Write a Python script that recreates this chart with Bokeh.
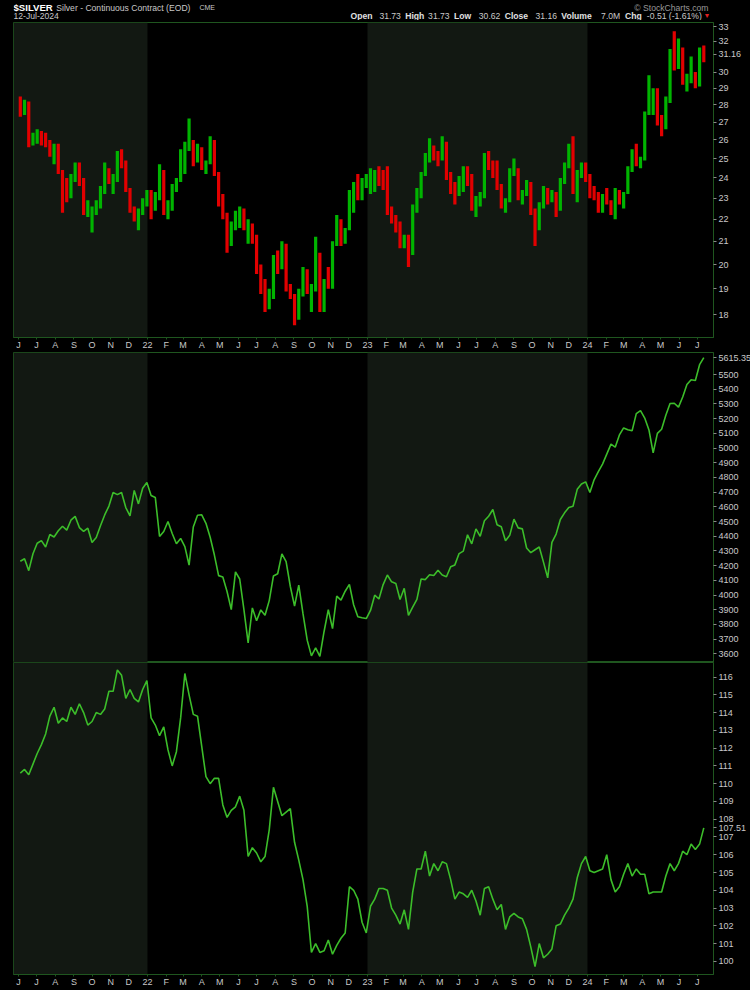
import pandas as pd
from bokeh.plotting import figure
from bokeh.models import Range1d, FixedTicker, BoxAnnotation, PrintfTickFormatter, ColumnDataSource
from bokeh.core.properties import value
from bokeh.layouts import column
from bokeh.embed import file_html
from bokeh.resources import INLINE

# ---------------- data (weekly, Fridays) ----------------
WEEK_START = "2021-06-04"
WEEK_END = "2024-07-12"

MONTH_LABELS = ["J", "J", "A", "S", "O", "N", "D",
                "22", "F", "M", "A", "M", "J", "J", "A", "S", "O", "N", "D",
                "23", "F", "M", "A", "M", "J", "J", "A", "S", "O", "N", "D",
                "24", "F", "M", "A", "M", "J", "J"]

SILVER_FIRST_OPEN = 28.2
SILVER_CLOSE = [
    27.9, 28.0, 25.9, 26.3, 26.5, 26.2, 25.9, 25.2, 25.5, 24.3,
    23.8, 23.1, 24.0, 24.7, 23.8, 22.4, 22.4, 22.5, 22.7, 23.3,
    24.4, 23.9, 24.1, 25.3, 24.7, 23.4, 22.5, 22.2, 22.4, 22.9,
    23.3, 22.4, 23.0, 24.3, 22.4, 22.4, 23.5, 23.9, 24.3, 25.7,
    25.9, 25.0, 25.6, 24.7, 24.8, 25.9, 24.2, 22.8, 22.3, 20.8,
    21.7, 22.1, 22.2, 21.7, 21.7, 21.1, 19.9, 19.2, 18.6, 18.6,
    20.3, 19.9, 20.8, 19.0, 18.8, 17.9, 18.8, 19.5, 18.9, 19.0,
    20.5, 18.3, 19.3, 19.2, 20.9, 21.8, 21.0, 21.5, 23.2, 23.5,
    23.2, 23.9, 24.0, 24.0, 24.3, 24.0, 23.7, 22.4, 22.0, 21.7,
    20.8, 21.2, 20.6, 22.5, 23.2, 24.1, 25.1, 25.4, 25.2, 25.0,
    25.7, 24.0, 23.8, 23.2, 23.7, 24.4, 24.2, 22.5, 22.8, 23.1,
    25.1, 24.7, 24.3, 23.6, 22.7, 22.8, 24.3, 24.4, 23.1, 23.1,
    23.7, 22.4, 21.7, 22.6, 23.4, 23.1, 23.3, 22.4, 23.8, 24.6,
    25.6, 23.3, 24.2, 24.6, 24.0, 23.3, 23.2, 22.6, 23.0, 22.9,
    22.4, 23.4, 22.9, 23.2, 24.5, 25.3, 24.7, 25.0, 27.5, 28.3,
    28.7, 27.3, 26.6, 28.2, 31.3, 30.4, 30.4, 29.4, 29.6, 29.6,
    29.2, 31.5, 31.16]
SILVER_HIGH = [
    28.5, 28.3, 28.2, 26.4, 26.6, 26.5, 26.4, 26.0, 25.8, 25.8,
    24.4, 24.0, 24.2, 24.8, 24.8, 24.0, 22.9, 22.6, 22.9, 23.6,
    24.8, 24.5, 24.2, 25.4, 25.5, 24.9, 23.5, 22.6, 22.5, 23.0,
    23.4, 23.4, 23.3, 24.7, 24.4, 22.9, 23.7, 24.0, 25.5, 25.9,
    27.2, 26.0, 25.8, 25.6, 24.9, 26.2, 26.0, 24.3, 23.2, 22.3,
    21.9, 22.4, 22.6, 22.5, 22.0, 21.8, 21.3, 20.0, 19.4, 19.0,
    20.4, 20.6, 21.0, 20.9, 19.2, 18.8, 19.0, 19.9, 19.8, 19.2,
    21.2, 20.5, 19.4, 19.9, 21.0, 22.2, 22.0, 21.6, 23.4, 23.8,
    24.2, 24.0, 24.2, 24.5, 24.4, 24.6, 24.4, 24.6, 22.6, 22.2,
    21.9, 21.3, 21.3, 22.7, 23.5, 24.3, 25.3, 26.1, 25.7, 25.4,
    26.2, 25.9, 24.3, 23.8, 24.1, 24.6, 24.6, 24.2, 23.1, 23.3,
    25.3, 25.4, 24.9, 24.9, 23.7, 23.0, 24.5, 25.0, 24.5, 23.4,
    23.9, 23.8, 22.5, 22.8, 23.6, 23.5, 23.4, 23.3, 24.0, 24.8,
    25.8, 26.2, 24.4, 24.8, 24.8, 24.2, 23.6, 23.3, 23.2, 23.5,
    22.9, 23.5, 23.4, 23.3, 24.6, 25.5, 25.8, 25.1, 27.6, 29.8,
    29.0, 29.0, 27.4, 28.5, 31.5, 32.7, 32.2, 31.6, 29.9, 31.0,
    30.0, 31.6, 31.73]
SILVER_LOW = [
    27.3, 27.4, 25.6, 25.7, 25.8, 25.7, 25.6, 25.1, 24.7, 24.2,
    22.3, 22.8, 23.0, 23.8, 23.6, 22.2, 22.1, 21.4, 22.2, 22.5,
    23.2, 23.7, 23.2, 23.8, 24.5, 23.3, 22.3, 21.9, 21.5, 22.2,
    22.6, 22.0, 22.4, 22.9, 22.2, 22.0, 22.4, 23.3, 23.8, 24.2,
    25.4, 24.6, 24.8, 24.4, 24.2, 24.7, 24.1, 22.6, 22.0, 20.5,
    20.8, 21.5, 21.6, 21.5, 20.9, 20.9, 19.6, 18.8, 18.1, 18.2,
    18.6, 19.6, 19.8, 18.9, 18.6, 17.6, 17.8, 18.7, 18.8, 18.1,
    18.9, 18.1, 18.1, 19.0, 19.0, 20.8, 20.8, 20.9, 21.5, 22.3,
    22.9, 22.9, 23.5, 23.2, 23.3, 23.6, 23.4, 22.2, 21.8, 21.4,
    20.7, 20.7, 19.9, 20.4, 22.3, 23.0, 24.1, 24.8, 24.9, 24.6,
    24.9, 23.9, 23.2, 22.7, 23.1, 23.3, 23.6, 22.4, 22.1, 22.6,
    23.0, 24.4, 24.0, 23.4, 22.5, 22.3, 22.8, 24.1, 22.9, 22.7,
    23.1, 22.2, 20.8, 21.5, 22.5, 22.7, 22.8, 22.1, 22.4, 23.7,
    24.5, 23.2, 22.8, 24.0, 23.8, 23.0, 22.9, 22.3, 22.3, 22.7,
    22.2, 22.0, 22.7, 22.5, 23.2, 24.3, 24.6, 24.5, 24.9, 27.4,
    27.4, 26.8, 26.2, 26.6, 28.1, 30.1, 30.2, 29.2, 28.8, 29.3,
    29.0, 29.1, 30.62]

SPX_CLOSE = [
    4230, 4247, 4166, 4281, 4352, 4370, 4327, 4412, 4395, 4437,
    4468, 4442, 4509, 4535, 4459, 4433, 4455, 4357, 4391, 4471,
    4545, 4605, 4697, 4683, 4698, 4595, 4538, 4712, 4620, 4726,
    4766, 4677, 4663, 4398, 4432, 4500, 4419, 4349, 4385, 4329,
    4204, 4463, 4543, 4546, 4488, 4393, 4272, 4132, 4123, 4024,
    3901, 4158, 4109, 3901, 3675, 3912, 3825, 3899, 3863, 3962,
    4130, 4145, 4280, 4228, 4058, 3924, 4067, 3873, 3693, 3586,
    3640, 3583, 3752, 3901, 3771, 3993, 3965, 4026, 4072, 3934,
    3852, 3845, 3840, 3895, 3999, 3973, 4071, 4136, 4090, 4079,
    3970, 4046, 3862, 3917, 3971, 4109, 4105, 4138, 4133, 4169,
    4136, 4124, 4192, 4205, 4282, 4299, 4410, 4348, 4450, 4399,
    4505, 4536, 4582, 4478, 4464, 4370, 4406, 4516, 4457, 4450,
    4320, 4288, 4308, 4327, 4224, 4117, 4358, 4415, 4514, 4559,
    4595, 4604, 4719, 4755, 4770, 4697, 4784, 4840, 4891, 4959,
    5027, 5006, 5089, 5137, 5124, 5117, 5234, 5254, 5204, 5123,
    4967, 5100, 5128, 5223, 5303, 5305, 5278, 5347, 5432, 5465,
    5460, 5567, 5615.35]

LOWER_CLOSE = [
    110.6, 110.8, 110.5, 111.1, 111.7, 112.2, 112.8, 113.8, 114.3, 113.4,
    113.7, 113.5, 114.3, 113.9, 114.5, 114.0, 113.3, 113.5, 114.0, 113.9,
    114.2, 115.2, 115.2, 116.4, 116.1, 114.8, 115.3, 114.8, 114.6, 115.3,
    115.8, 113.7, 113.3, 112.7, 113.2, 111.9, 111.0, 111.8, 113.7, 116.2,
    115.0, 113.9, 113.8, 112.1, 110.4, 110.0, 110.3, 110.3, 108.8, 108.1,
    108.5, 108.7, 109.3, 108.5, 105.9, 106.4, 106.1, 105.6, 105.9, 107.4,
    109.8, 109.0, 108.2, 108.4, 108.6, 106.7, 105.7, 104.6, 103.1, 100.5,
    101.0, 100.5, 100.6, 101.2, 100.4, 100.9, 101.3, 101.6, 104.2, 104.0,
    103.5, 102.2, 101.6, 103.1, 103.5, 104.1, 104.1, 104.0, 103.0, 102.6,
    102.1, 102.9, 101.8, 103.9, 105.2, 105.2, 106.2, 104.8, 105.5, 105.1,
    105.6, 105.5, 104.6, 103.5, 103.9, 103.8, 103.6, 104.0, 103.4, 102.6,
    104.1, 104.2, 103.5, 102.9, 103.2, 101.8, 102.5, 102.7, 102.5, 102.4,
    101.8, 100.8, 99.7, 101.0, 100.2, 100.4, 100.7, 102.0, 102.1, 102.6,
    103.0, 103.5, 104.7, 105.5, 105.9, 105.1, 105.0, 105.1, 105.2, 106.0,
    104.6, 103.9, 104.2, 104.9, 105.5, 104.8, 105.2, 104.9, 104.9, 103.8,
    103.9, 103.9, 103.9, 104.8, 105.5, 105.1, 105.5, 106.2, 106.0, 106.6,
    106.3, 106.6, 107.51]

# axis ticks (the last-value tag takes the place of the tick it covers)
SILVER_TICKS = [18, 19, 20, 21, 22, 23, 24, 25, 26, 27, 28, 29, 30, 32, 33]
SPX_TICKS = [3600, 3700, 3800, 3900, 4000, 4100, 4200, 4300, 4400, 4500,
             4600, 4700, 4800, 4900, 5000, 5100, 5200, 5300, 5400, 5500]
LOWER_TICKS = [100, 101, 102, 103, 104, 105, 106, 107, 108, 109, 110,
               111, 112, 113, 114, 115, 116]
SILVER_TAG = (31.16, "31.16")
SPX_TAG = (5615.35, "5615.35")
LOWER_TAG = (107.51, "107.51")

SHADED = [("2021-05-20", "2022-01-01"), ("2023-01-01", "2024-01-01")]

HEADER_TITLE = "$SILVER"
HEADER_NAME = "Silver - Continuous Contract (EOD)"
HEADER_EXCH = "CME"
HEADER_DATE = "12-Jul-2024"
HEADER_BRAND = "\u00a9 StockCharts.com"
HEADER_QUOTE = [("Open", True), ("31.73", False), ("High", True), ("31.73", False),
                ("Low", True), ("30.62", False), ("Close", True), ("31.16", False),
                ("Volume", True), ("7.0M", False), ("Chg", True), ("-0.51 (-1.61%)", False)]

# ---------------- styling ----------------
SHADE = "#121812"
EDGE = "#1f561f"
UP = "#00b400"
DOWN = "#e20000"
LINE = "#3cbd2a"
TXT = "#c8c8c8"
FONT = "Liberation Sans"
W = 750
HEAD_H = 20

BASE = pd.Timestamp("2021-06-01")
dates = pd.date_range(WEEK_START, WEEK_END, freq="7D")
xs = [(d - BASE).days for d in dates]
month_starts = pd.date_range("2021-06-01", "2024-07-01", freq="MS")
month_x = [(d - BASE).days for d in month_starts]
overrides = {int(mx): lab for mx, lab in zip(month_x, MONTH_LABELS)}

X0, X1 = -8.3, 1153.1
xr = Range1d(X0, X1)
FL, FW = 13, 700


def make_fig(fh, yr, ticks, tag, ylog=False, xaxis=True, top=0):
    p = figure(frame_width=FW, frame_height=fh, x_range=xr, y_range=yr,
               y_axis_type="log" if ylog else "linear", y_axis_location="right",
               x_axis_location="below" if xaxis else None,
               output_backend="svg", toolbar_location=None,
               background_fill_color="black", border_fill_color="black",
               outline_line_color=EDGE, outline_line_width=1,
               min_border_left=FL, min_border_right=W - FL - FW, min_border_top=top,
               min_border_bottom=0)
    p.grid.visible = False
    for a, b in SHADED:
        left = max((pd.Timestamp(a) - BASE).days, X0)
        right = (pd.Timestamp(b) - BASE).days
        p.add_layout(BoxAnnotation(left=left, right=right, fill_color=SHADE,
                                   fill_alpha=1, line_alpha=0, level="underlay"))
    ya = p.yaxis[0]
    ya.ticker = FixedTicker(ticks=list(ticks) + [tag[0]])
    ya.formatter = PrintfTickFormatter(format="%d")
    ya.major_label_overrides = {tag[0]: tag[1]}
    ya.major_label_text_font_size = "9px"
    ya.major_label_text_color = TXT
    ya.major_label_text_font = FONT
    ya.major_tick_out = 3
    ya.major_tick_in = 0
    ya.major_tick_line_color = "#8a8a8a"
    ya.minor_tick_line_color = None
    ya.axis_line_color = EDGE
    ya.major_label_standoff = 2
    if xaxis:
        xa = p.xaxis[0]
        xa.ticker = FixedTicker(ticks=month_x)
        xa.major_label_overrides = overrides
        xa.major_label_text_font_size = "9px"
        xa.major_label_text_color = TXT
        xa.major_label_text_font = FONT
        xa.major_tick_out = 2
        xa.major_tick_in = 0
        xa.major_tick_line_color = EDGE
        xa.minor_tick_line_color = None
        xa.axis_line_color = EDGE
        xa.major_label_standoff = 0
    return p


# ---- header strip (x in page pixels; frame is aligned to 13..713) ----
ph = figure(width=W, height=HEAD_H, x_range=Range1d(FL, FL + FW), y_range=Range1d(HEAD_H, 0),
            output_backend="svg", toolbar_location=None,
            background_fill_color="black", border_fill_color="black",
            outline_line_color=None, min_border=0,
            x_axis_location=None, y_axis_location=None)
ph.grid.visible = False


def htext(x, y, t, size="9px", bold=False, color=TXT, align="left"):
    ph.text(x=[x], y=[y], text=[t], text_font=value(FONT), text_font_size=size,
            text_font_style="bold" if bold else "normal", text_color=color,
            text_align=align, text_baseline="middle")


htext(13, 7, HEADER_TITLE, size="9.6px", bold=True, color="white")
htext(56, 7, HEADER_NAME, size="8.6px")
htext(200, 7, HEADER_EXCH, size="7px")
htext(13, 15.5, HEADER_DATE, size="8.6px")
htext(712, 7, HEADER_BRAND, size="8.6px", color="#9a9a9a", align="right")
quote_x = [352, 381, 407, 430, 456, 481, 507, 538, 564, 604, 628, 650]
for qx, (t, b) in zip(quote_x, HEADER_QUOTE):
    htext(qx, 15.5, t, size="8.6px", bold=b, color="#e0e0e0" if b else TXT)
htext(707, 15, "\u25bc", size="7px", color="#e02020")

# ---- panel 1: silver bars ----
p1 = make_fig(315, Range1d(17.15, 33.3), SILVER_TICKS, SILVER_TAG, ylog=True,
              xaxis=True, top=22 - HEAD_H)
opens = [SILVER_FIRST_OPEN] + SILVER_CLOSE[:-1]
colors = [UP if c >= o else DOWN for o, c in zip(opens, SILVER_CLOSE)]
src = ColumnDataSource(dict(x=xs, h=SILVER_HIGH, l=SILVER_LOW, o=opens,
                            c=SILVER_CLOSE, col=colors))
p1.segment(x0="x", y0="l", x1="x", y1="h", color="col", line_width=3.2, source=src)

# ---- panel 2 ----
p2 = make_fig(310, Range1d(3541, 5650), SPX_TICKS, SPX_TAG, xaxis=False)
p2.line(xs, SPX_CLOSE, color=LINE, line_width=1.6)

# ---- panel 3 ----
p3 = make_fig(312, Range1d(99.26, 116.82), LOWER_TICKS, LOWER_TAG, xaxis=True)
p3.line(xs, LOWER_CLOSE, color=LINE, line_width=1.6)

layout = column(ph, p1, p2, p3, spacing=0)
html = file_html(layout, INLINE, "Silver")
html = html.replace("<body>", "<body style=\"background:black;\">")
open("out.html", "w").write(html)
